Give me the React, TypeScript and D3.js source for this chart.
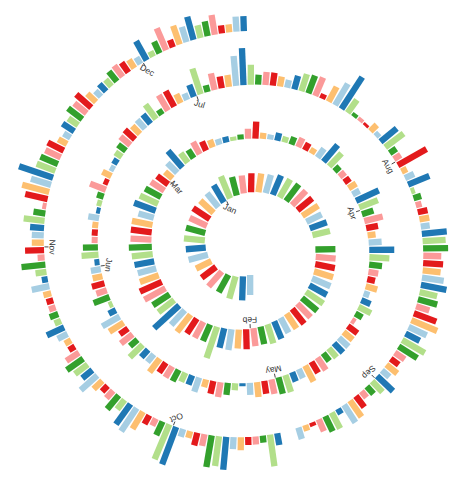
import React from "react";
import * as d3 from "d3";

// ---- data ----
const values: number[] = [
  20, 24, 23, 20, 20, 18, 17, 20, 20, 21,
  20, 19, 20, 18, 18, 20, 24, 19, 18, 19,
  19, 19, 21, 21, 21, 20, 19, 19, 17, 18,
  18, 20, 20, 20, 20, 20, 20, 21, 20, 19,
  19, 18, 17, 19, 20, 18, 18, 20, 19, 21,
  20, 33, 18, 18, 18, 22, 20, 34, 20, 20,
  24, 24, 20, 19, 20, 21, 23, 21, 21, 21,
  16, 23, 20, 18, 16, 14, 10, 14, 22, 12,
  10, 14, 10, 8, 6, 6, 4, 5, 10, 17,
  6, 5, 8, 6, 8, 10, 8, 6, 11, 22,
  18, 7, 7, 7, 9, 8, 25, 20, 12, 19,
  12, 8, 13, 25, 20, 13, 10, 8, 12, 6,
  10, 14, 8, 4, 12, 12, 13, 13, 12, 10,
  15, 13, 18, 10, 10, 18, 17, 15, 13, 15,
  12, 3, 7, 12, 15, 13, 8, 15, 10, 10,
  13, 13, 12, 17, 10, 10, 18, 10, 15, 10,
  17, 20, 8, 4, 17, 11, 13, 10, 10, 5,
  17, 15, 6, 6, 6, 11, 4, 5, 7, 17,
  5, 10, 5, 6, 8, 10, 13, 14, 11, 12,
  12, 18, 6, 18, 18, 10, 7, 13, 27, 7,
  17, 12, 12, 30, 37, 20, 10, 13, 13, 10,
  8, 14, 18, 19, 20, 5, 17, 25, 38, 16,
  4, 4, 3, 9, 5, 21, 23, 8, 8, 33,
  6, 10, 23, 4, 8, 6, 10, 10, 9, 25,
  23, 25, 18, 20, 18, 22, 26, 18, 20, 14,
  24, 28, 20, 16, 26, 22, 12, 10, 14, 10,
  22, 15, 10, 8, 14, 20, 21, 6, 18, 17,
  13, 4, 6, 12, 12, 32, 7, 8, 8, 13,
  12, 33, 30, 32, 12, 13, 7, 8, 40, 38,
  15, 8, 10, 20, 28, 25, 12, 18, 10, 8,
  12, 22, 13, 16, 20, 15, 7, 7, 11, 19,
  7, 9, 7, 7, 8, 18, 6, 11, 24, 7,
  19, 12, 12, 14, 21, 12, 4, 23, 28, 21,
  36, 20, 19, 17, 18, 10, 8, 14, 12, 18,
  16, 20, 12, 8, 10, 9, 13, 14, 12, 10,
  8, 22, 6, 13, 24, 8, 20, 16, 24, 13,
  15, 20, 8, 8, 15, 15,
];

// missing days in the series (extra empty slots after a bar index)
const gapAfter: number[] = [30, 273];
const gapDays: number[] = [1, 2];

const monthLabels: string[] = ["Jan", "Feb", "Mar", "Apr", "May", "Jun", "Jul", "Aug", "Sep", "Oct", "Nov", "Dec"];
const monthStartBar: number[] = [15, 46, 75, 107, 136, 168, 197, 228, 260, 288, 320, 350];

const palette: string[] = d3.schemePaired.slice(0, 7) as string[];

// ---- layout ----
const W = 458;
const H = 468;
const CX = 239;
const CY = 239.5;
const THETA_START = Math.PI;
const THETA_END = 8 * Math.PI;
const R_START = 27.5;
const R_END = 216.5;
const VALUE_MAX = 40;
const BAR_MAX = 40;

export default function App() {
  const radius = d3.scaleLinear().domain([THETA_START, THETA_END]).range([R_START, R_END]);

  const nSamples = 12000;
  const pts: [number, number][] = d3.range(nSamples + 1).map((k) => {
    const t = THETA_START + ((THETA_END - THETA_START) * k) / nSamples;
    const r = radius(t);
    return [r * Math.sin(t), -r * Math.cos(t)];
  });
  const cum: number[] = [0];
  for (let k = 1; k <= nSamples; k++) {
    const dx = pts[k][0] - pts[k - 1][0];
    const dy = pts[k][1] - pts[k - 1][1];
    cum.push(cum[k - 1] + Math.sqrt(dx * dx + dy * dy));
  }
  const totalLength = cum[nSamples];

  const pointAt = (s: number): [number, number] => {
    const ss = Math.max(0, Math.min(totalLength, s));
    let idx = d3.bisectLeft(cum, ss);
    if (idx <= 0) return pts[0];
    if (idx > nSamples) idx = nSamples;
    const a = cum[idx - 1];
    const b = cum[idx];
    const f = b > a ? (ss - a) / (b - a) : 0;
    return [
      pts[idx - 1][0] + (pts[idx][0] - pts[idx - 1][0]) * f,
      pts[idx - 1][1] + (pts[idx][1] - pts[idx - 1][1]) * f,
    ];
  };

  const slots = values.map((_, i) => {
    let extra = 0;
    gapAfter.forEach((g, j) => {
      if (i > g) extra += gapDays[j];
    });
    return i + extra;
  });
  const maxSlot = d3.max(slots) as number;
  const along = d3.scaleLinear().domain([0, maxSlot]).range([0, totalLength]);
  const barWidth = totalLength / maxSlot - 1;
  const yScale = d3.scaleLinear().domain([0, VALUE_MAX]).range([0, BAR_MAX]);
  const color = d3.scaleOrdinal<number, string>().domain(d3.range(7)).range(palette);

  const bars = values.map((v, i) => {
    const s = along(slots[i]);
    const p = pointAt(s);
    const q = pointAt(s - barWidth);
    const a = (Math.atan2(q[1], q[0]) * 180) / Math.PI - 90;
    return (
      <rect
        key={i}
        x={p[0]}
        y={p[1]}
        width={barWidth}
        height={yScale(v)}
        fill={color(i % 7)}
        transform={`rotate(${a},${p[0]},${p[1]})`}
      />
    );
  });

  const labels = monthLabels.map((m, j) => {
    const s = along(slots[monthStartBar[j]]);
    const p = pointAt(s);
    const len = Math.sqrt(p[0] * p[0] + p[1] * p[1]);
    const nx = -p[0] / len;
    const ny = -p[1] / len;
    const psi = (Math.atan2(p[0], -p[1]) * 180) / Math.PI;
    const rot = Math.abs(psi);
    const tx = p[0] + nx * 8.5;
    const ty = p[1] + ny * 8.5;
    return (
      <g key={m}>
        <line
          x1={p[0] + nx * 0.5}
          y1={p[1] + ny * 0.5}
          x2={p[0] + nx * 4.5}
          y2={p[1] + ny * 4.5}
          stroke="#333"
          strokeWidth={0.9}
        />
        <text
          x={tx}
          y={ty}
          transform={`rotate(${rot},${tx},${ty})`}
          textAnchor="middle"
          dominantBaseline="central"
          fontFamily="'Liberation Sans', Arial, sans-serif"
          fontSize={8.5}
          fill="#333"
        >
          {m}
        </text>
      </g>
    );
  });

  return (
    <svg width={W} height={H} style={{ display: "block", background: "#fff" }}>
      <g transform={`translate(${CX},${CY})`}>
        {bars}
        {labels}
      </g>
    </svg>
  );
}
